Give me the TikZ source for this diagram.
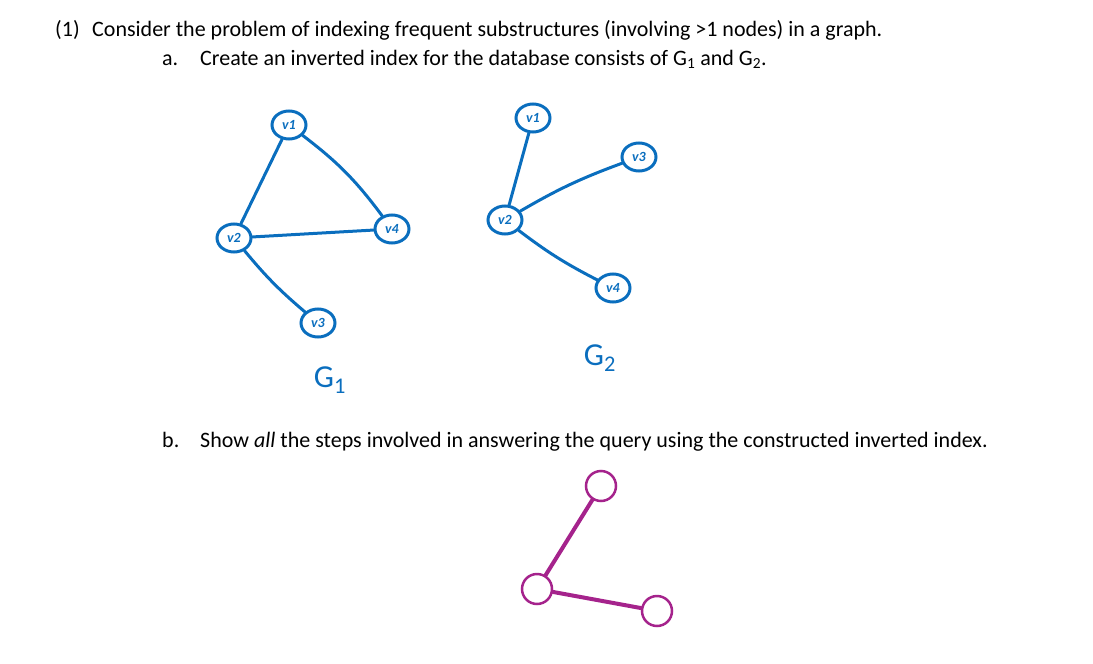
\documentclass[tikz,border=0pt]{standalone}
\usepackage{fontspec}
\setmainfont{Carlito}
\usetikzlibrary{shapes.geometric}
\definecolor{pen}{RGB}{10,110,190}
\definecolor{qpen}{RGB}{165,35,140}
\begin{document}
\begin{tikzpicture}[x=1pt,y=-1pt,
  gn/.style={draw=pen,line width=3pt,ellipse,minimum width=34pt,minimum height=28pt,inner sep=0pt,text=pen,font=\fontsize{14}{14}\selectfont\bfseries\itshape},
  ge/.style={draw=pen,line width=3pt,line cap=round},
  qn/.style={draw=qpen,line width=2.5pt,circle,minimum size=30pt,inner sep=0pt},
  qe/.style={draw=qpen,line width=4pt,line cap=round},
  txt/.style={anchor=base west,inner sep=0pt,font=\fontsize{22}{24}\selectfont}]
\useasboundingbox (0,0) rectangle (1093,664);
\node[txt] (t0) at (55,36) {(1)};
\node[txt] (t1) at (92,36) {Consider the problem of indexing frequent substructures (involving >1 nodes) in a graph.};
\node[txt] (t2a) at (162,65) {a.};
\node[txt] (t2) at (200,65) {Create an inverted index for the database consists of G\textsubscript{1} and G\textsubscript{2}.};
\node[txt] (t3a) at (162,447) {b.};
\node[txt] (t3) at (200,447) {Show \textit{all} the steps involved in answering the query using the constructed inverted index.};
% G1
\node[gn] (a1) at (289,125) {v1};
\node[gn] (a2) at (234,238) {v2};
\node[gn] (a4) at (392,229) {v4};
\node[gn] (a3) at (318,323) {v3};
\draw[ge] (a1) -- (a2);
\draw[ge] (a1) to[bend left=8] (a4);
\draw[ge] (a2) -- (a4);
\draw[ge] (a2) to[bend right=5] (a3);
\node[text=pen,font=\fontsize{32}{32}\selectfont] (g1) at (330,380) {G\textsubscript{1}};
% G2
\node[gn] (b1) at (533,118) {v1};
\node[gn] (b2) at (505,220) {v2};
\node[gn] (b3) at (639,157) {v3};
\node[gn] (b4) at (613,288) {v4};
\draw[ge] (b1) -- (b2);
\draw[ge] (b2) to[bend left=5] (b3);
\draw[ge] (b2) to[bend right=5] (b4);
\node[text=pen,font=\fontsize{32}{32}\selectfont] (g2) at (600,358) {G\textsubscript{2}};
% query
\node[qn] (q1) at (601,486) {};
\node[qn] (q2) at (537,589) {};
\node[qn] (q3) at (657,611) {};
\draw[qe] (q1) -- (q2);
\draw[qe] (q2) -- (q3);
\end{tikzpicture}
\end{document}
